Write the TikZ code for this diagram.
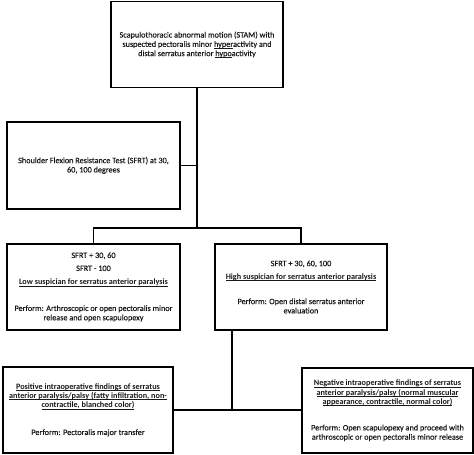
\documentclass[tikz,border=0pt]{standalone}
\usepackage{fontspec}
\setmainfont{Carlito}[FakeBold=0.25,BoldFeatures={FakeBold=0}]
\newcommand\ulx[1]{\setbox0\hbox{#1}\rlap{\rule[-1.3pt]{\wd0}{0.55pt}}\box0}
\newcommand\ulb[1]{\ulx{\bfseries #1}}
\begin{document}
\begin{tikzpicture}[x=1pt,y=-1pt,
  box/.style={draw,line width=1.3pt,inner sep=0pt,align=center,
    font=\fontsize{8.2}{9.3}\selectfont,text=black!90},
  wire/.style={line width=1.2pt}]
\useasboundingbox (0,0) rectangle (474,455);
\fill[white] (0,0) rectangle (474,455);
\node[box,minimum width=172pt,minimum height=86pt] (top) at (197,44.5)
  {Scapulothoracic abnormal motion (STAM) with\\
   suspected pectoralis minor \ulx{hyper}activity and\\
   distal serratus anterior \ulx{hypo}activity};
\node[box,minimum width=173pt,minimum height=87pt] (sfrt) at (93.5,165.5)
  {Shoulder Flexion Resistance Test (SFRT) at 30,\\ 60, 100 degrees};
\node[box,minimum width=173pt,minimum height=86pt] (low) at (93.5,287)
  {SFRT + 30, 60\\[3.7pt]
   SFRT - 100\\[4.7pt]
   \ulb{Low suspician for serratus anterior paralysis}\\[16.7pt]
   Perform: Arthroscopic or open pectoralis minor\\
   release and open scapulopexy};
\node[box,minimum width=172pt,minimum height=86pt] (high) at (301,287)
  {SFRT + 30, 60, 100\\[3.7pt]
   \ulb{High suspician for serratus anterior paralysis}\\[15.7pt]
   Perform: Open distal serratus anterior\\
   evaluation};
\node[box,minimum width=170pt,minimum height=86pt] (pos) at (88,410)
  {\ulb{Positive intraoperative findings of serratus}\\
   \ulb{anterior paralysis/palsy (fatty infiltration, non-}\\
   \ulb{contractile, blanched color)}\\[17.7pt]
   Perform: Pectoralis major transfer};
\node[box,minimum width=171pt,minimum height=85pt] (neg) at (387.5,410.5)
  {\ulb{Negative intraoperative findings of serratus}\\
   \ulb{anterior paralysis/palsy (normal muscular}\\
   \ulb{appearance, contractile, normal color)}\\[16.7pt]
   Perform: Open scapulopexy and proceed with\\
   arthroscopic or open pectoralis minor release};
\coordinate (j1) at (197,165.5);
\coordinate (j2) at (197,228);
\coordinate (j3) at (232,410);
\draw[wire] (top.south) -- (j2);
\draw[wire] (sfrt.east) -- (j1);
\draw[wire] (low.north) -- (low.north |- j2) -- (high.north |- j2) -- (high.north);
\draw[wire] (j3 |- high.south) -- (j3);
\draw[wire] (pos.east) -- (pos.east -| neg.west);
\end{tikzpicture}
\end{document}
